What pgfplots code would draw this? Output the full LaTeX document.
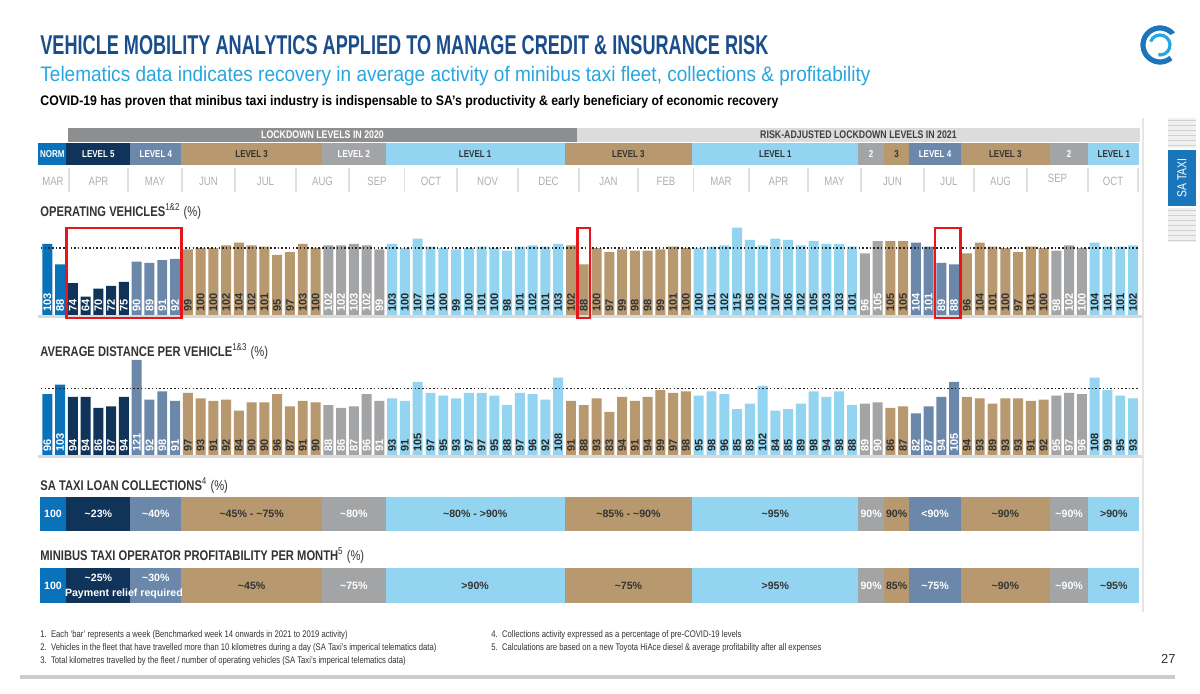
\documentclass[border=0pt]{standalone}
\usepackage{graphicx}
\usepackage{pgfplots}
\pgfplotsset{compat=1.18}
\usepackage{fontspec}
\setmainfont{Liberation Sans}
\newfontfamily\nar[FakeStretch=0.8]{Liberation Sans}

\definecolor{cNorm}{HTML}{0A72BA}
\definecolor{cL5}{HTML}{10335A}
\definecolor{cL4}{HTML}{6B88AB}
\definecolor{cL3}{HTML}{B7986F}
\definecolor{cL2}{HTML}{A3A4A6}
\definecolor{cL1}{HTML}{93D4F0}
\definecolor{cTitle}{HTML}{1A4D8C}
\definecolor{cSub}{HTML}{27A6DF}
\definecolor{cTxt}{HTML}{333333}
\definecolor{cMon}{HTML}{B0B0B0}
\definecolor{cBandA}{HTML}{8D8E90}
\definecolor{cBandB}{HTML}{DCDCDC}
\definecolor{cRed}{HTML}{E8161B}
\definecolor{cLogo}{HTML}{1B75BB}

% x position (px) of the left edge of weekly bar k
\newcommand\E[1]{40.9+12.773*(#1)}
% coloured block between bar edges k1 and k2, rows y1..y2, with a centred label
\newcommand\band[7]{%
  \fill[#5] ({\E{#1}},#3) rectangle ({\E{#2}},#4);
  \node[text=#6,inner sep=0pt] at ({\E{(#1+#2)/2}},{(#3+#4)/2}) {#7};}
\newcommand\T{\textasciitilde}
\newcommand\barfont{\bfseries\fontsize{5.5}{6}\selectfont}

\pgfplotsset{
  barax/.style={scale only axis, width=549.25pt, xmin=-0.5, xmax=85.5,
    enlargelimits=false, axis lines=none, clip=false, anchor=south west,
    /pgf/number format/assume math mode=true},
  opbar/.style 2 args={ybar, bar width=0.78, bar shift=0pt, draw=none, fill=#1,
    nodes near coords, visualization depends on=rawy\as\rawy,
    every node near coord/.append style={yshift={(50.5-\rawy)*0.6765pt+1.5pt},
      rotate=90, anchor=west, inner sep=0pt, font=\barfont, text=#2}},
  distbar/.style 2 args={ybar, bar width=0.78, bar shift=0pt, draw=none, fill=#1,
    nodes near coords, visualization depends on=rawy\as\rawy,
    every node near coord/.append style={yshift={(51.5-\rawy)*0.6835pt+1.5pt},
      rotate=90, anchor=west, inner sep=0pt, font=\barfont, text=#2}},
  refline/.style={sharp plot, black!85, line width=0.75pt,
    dash pattern=on 0.75pt off 1.1pt, forget plot},
}

\begin{document}
\begin{tikzpicture}
\begin{scope}[x=0.5pt,y=-0.5pt]
\fill[white] (0,0) rectangle (1200,694);

% ---- headline block
\node[anchor=base west,inner sep=0pt,text=cTitle] at (40,55)
  {\resizebox{364pt}{9.5pt}{\bfseries VEHICLE MOBILITY ANALYTICS APPLIED TO MANAGE CREDIT \& INSURANCE RISK}};
\node[anchor=base west,inner sep=0pt,text=cSub] at (40,82)
  {\resizebox{415pt}{7.6pt}{Telematics data indicates recovery in average activity of minibus taxi fleet, collections \& profitability}};
\node[anchor=base west,inner sep=0pt,text=black] at (40,106)
  {\resizebox{369pt}{5pt}{\bfseries COVID-19 has proven that minibus taxi industry is indispensable to SA’s productivity \& early beneficiary of economic recovery}};

% ---- logo
\draw[cLogo,line width=2.6pt] ([shift={(1160,45)}]50:17) arc[start angle=50,end angle=320,radius=17];
\draw[cSub,line width=1.6pt] ([shift={(1160,45)}]200:10) arc[start angle=200,end angle=460,radius=10];
\fill[white] (1168,36) -- (1182,30) -- (1180,42) -- cycle;

% ---- side tab
\fill[black!6] (1168,118) rectangle (1196,148);
\fill[black!6] (1168,208) rectangle (1196,242);
\foreach \yy in {121,126,...,146} {\draw[black!18,line width=0.5pt] (1168,\yy) -- (1196,\yy);}
\foreach \yy in {211,216,...,241} {\draw[black!18,line width=0.5pt] (1168,\yy) -- (1196,\yy);}
\fill[cLogo] (1168,150) rectangle (1196,206);
\node[rotate=90,text=white,inner sep=0pt,font=\nar\fontsize{6.5}{7}\selectfont] at (1182,178) {SA TAXI};

% ---- panel edges
\draw[black!10,line width=1pt] (1143,118) -- (1143,612);
\fill[black!15] (38,315) rectangle (1142,318);
\fill[black!15] (38,455) rectangle (1142,458);
\fill[black!20] (20,675) rectangle (1175,679);
\node[anchor=base east,inner sep=0pt,text=cTxt,font=\fontsize{6.5}{7}\selectfont] at (1176,664) {27};

% ---- lockdown periods
\fill[cBandA] (68,128) rectangle (577,142);
\node[text=white,inner sep=0pt,font=\nar\bfseries\fontsize{5.5}{6}\selectfont] at (322.5,135) {LOCKDOWN LEVELS IN 2020};
\fill[cBandB] (577,128) rectangle (1140,142);
\node[text=black!75,inner sep=0pt,font=\nar\bfseries\fontsize{5.5}{6}\selectfont] at (858.5,135) {RISK-ADJUSTED LOCKDOWN LEVELS IN 2021};

\begin{scope}[every node/.style={font=\nar\bfseries\fontsize{5}{6}\selectfont}]
\band{-0.2}{2}{143}{165}{cNorm}{white}{NORM}
\band{2}{7}{143}{165}{cL5}{white}{LEVEL 5}
\band{7}{11}{143}{165}{cL4}{white}{LEVEL 4}
\band{11}{22}{143}{165}{cL3}{cTxt}{LEVEL 3}
\band{22}{27}{143}{165}{cL2}{white}{LEVEL 2}
\band{27}{41}{143}{165}{cL1}{cTxt}{LEVEL 1}
\band{41}{51}{143}{165}{cL3}{cTxt}{LEVEL 3}
\band{51}{64}{143}{165}{cL1}{cTxt}{LEVEL 1}
\band{64}{66}{143}{165}{cL2}{white}{2}
\band{66}{68}{143}{165}{cL3}{cTxt}{3}
\band{68}{72}{143}{165}{cL4}{white}{LEVEL 4}
\band{72}{79}{143}{165}{cL3}{cTxt}{LEVEL 3}
\band{79}{82}{143}{165}{cL2}{white}{2}
\band{82}{86}{143}{165}{cL1}{cTxt}{LEVEL 1}
\end{scope}

% ---- months
\foreach \xx in {69,128,182,235,296,349,404.5,457,518,579,638,693.5,749,808,861,924,974,1027,1088,1138}
  {\draw[black!12,line width=0.6pt] (\xx,168) -- (\xx,192);}
\foreach \xx/\mm in {53/MAR,98.5/APR,155/MAY,208.5/JUN,265.5/JUL,322.5/AUG,377/SEP,431/OCT,487.5/NOV,548.5/DEC,
  608.5/JAN,666/FEB,721/MAR,778.5/APR,834.5/MAY,892.5/JUN,949/JUL,1000.5/AUG,1113/OCT}
  {\node[text=cMon,inner sep=0pt,font=\nar\fontsize{6}{7}\selectfont] at (\xx,181) {\mm};}
\node[text=cMon,inner sep=0pt,font=\nar\fontsize{6}{7}\selectfont] at (1057.5,178) {SEP};

% ---- section titles
\begin{scope}[every node/.style={anchor=base west,inner sep=0pt,text=cTxt,font=\nar\fontsize{7}{8}\selectfont}]
\node at (40,217) {\textbf{OPERATING VEHICLES}\textsuperscript{1\&2} (\%)};
\node at (40,357) {\textbf{AVERAGE DISTANCE PER VEHICLE}\textsuperscript{1\&3} (\%)};
\node at (40,491) {\textbf{SA TAXI LOAN COLLECTIONS}\textsuperscript{4} (\%)};
\node at (40,561) {\textbf{MINIBUS TAXI OPERATOR PROFITABILITY PER MONTH}\textsuperscript{5} (\%)};
\end{scope}

% ---- collections
\begin{scope}[every node/.style={font=\bfseries\fontsize{5.3}{6}\selectfont}]
\band{-0.1}{2}{497}{531}{cNorm}{white}{100}
\band{2}{7}{497}{531}{cL5}{white}{\T23\%}
\band{7}{11}{497}{531}{cL4}{white}{\T40\%}
\band{11}{22}{497}{531}{cL3}{cTxt}{\T45\% - \T75\%}
\band{22}{27}{497}{531}{cL2}{white}{\T80\%}
\band{27}{41}{497}{531}{cL1}{cTxt}{\T80\% - >90\%}
\band{41}{51}{497}{531}{cL3}{cTxt}{\T85\% - \T90\%}
\band{51}{64}{497}{531}{cL1}{cTxt}{\T95\%}
\band{64}{66}{497}{531}{cL2}{white}{90\%}
\band{66}{68}{497}{531}{cL3}{cTxt}{90\%}
\band{68}{72}{497}{531}{cL4}{white}{<90\%}
\band{72}{79}{497}{531}{cL3}{cTxt}{\T90\%}
\band{79}{82}{497}{531}{cL2}{white}{\T90\%}
\band{82}{86}{497}{531}{cL1}{cTxt}{>90\%}
% ---- profitability
\band{-0.1}{2}{568}{603}{cNorm}{white}{100}
\band{2}{7}{568}{603}{cL5}{white}{}
\band{7}{11}{568}{603}{cL4}{white}{}
\band{11}{22}{568}{603}{cL3}{cTxt}{\T45\%}
\band{22}{27}{568}{603}{cL2}{white}{\T75\%}
\band{27}{41}{568}{603}{cL1}{cTxt}{>90\%}
\band{41}{51}{568}{603}{cL3}{cTxt}{\T75\%}
\band{51}{64}{568}{603}{cL1}{cTxt}{>95\%}
\band{64}{66}{568}{603}{cL2}{white}{90\%}
\band{66}{68}{568}{603}{cL3}{cTxt}{85\%}
\band{68}{72}{568}{603}{cL4}{white}{\T75\%}
\band{72}{79}{568}{603}{cL3}{cTxt}{\T90\%}
\band{79}{82}{568}{603}{cL2}{white}{\T90\%}
\band{82}{86}{568}{603}{cL1}{cTxt}{\T95\%}
\node[text=white,inner sep=0pt] at ({\E{4.5}},578) {\T25\%};
\node[text=white,inner sep=0pt] at ({\E{9}},578) {\T30\%};
\node[text=white,inner sep=0pt] at ({\E{6.5}},594) {Payment relief required};
\end{scope}

% ---- footnotes
\begin{scope}[every node/.style={anchor=base west,inner sep=0pt,text=cTxt,font=\nar\fontsize{4.8}{5.5}\selectfont}]
\node at (40,638) {1.\ \ Each ‘bar’ represents a week (Benchmarked week 14 onwards in 2021 to 2019 activity)};
\node at (40,651) {2.\ \ Vehicles in the fleet that have travelled more than 10 kilometres during a day (SA Taxi’s imperical telematics data)};
\node at (40,664) {3.\ \ Total kilometres travelled by the fleet / number of operating vehicles (SA Taxi’s imperical telematics data)};
\node at (491,638) {4.\ \ Collections activity expressed as a percentage of pre-COVID-19 levels};
\node at (491,651) {5.\ \ Calculations are based on a new Toyota HiAce diesel \& average profitability after all expenses};
\end{scope}
\end{scope}

% ---- operating vehicles, weekly (% of benchmark)
\begin{axis}[barax, at={(20.45pt,-157.5pt)}, ymin=50.5, ymax=117, height=44.99pt]
\addplot[opbar={cNorm}{white}] coordinates {(0,103)(1,88)};
\addplot[opbar={cL5}{white}] coordinates {(2,74)(3,64)(4,70)(5,72)(6,75)};
\addplot[opbar={cL4}{white}] coordinates {(7,90)(8,89)(9,91)(10,92)(68,104)(69,101)(70,89)(71,88)};
\addplot[opbar={cL3}{cTxt}] coordinates {(11,99)(12,100)(13,100)(14,102)(15,104)(16,102)(17,101)(18,95)(19,97)(20,103)(21,100)
  (41,102)(42,88)(43,100)(44,97)(45,99)(46,98)(47,98)(48,99)(49,101)(50,100)
  (66,105)(67,105)(72,96)(73,104)(74,101)(75,100)(76,97)(77,101)(78,100)};
\addplot[opbar={cL2}{white}] coordinates {(22,102)(23,102)(24,103)(25,102)(26,99)(64,96)(65,105)(79,98)(80,102)(81,100)};
\addplot[opbar={cL1}{black!85}] coordinates {(27,103)(28,100)(29,107)(30,101)(31,100)(32,99)(33,100)(34,101)(35,100)(36,98)(37,101)(38,102)(39,101)(40,103)
  (51,100)(52,101)(53,102)(54,115)(55,106)(56,102)(57,107)(58,106)(59,102)(60,105)(61,103)(62,103)(63,101)
  (82,104)(83,101)(84,101)(85,102)};
\addplot[refline] coordinates {(-0.5,100) (85.5,100)};
\end{axis}

% ---- average distance per vehicle, weekly (% of benchmark)
\begin{axis}[barax, at={(20.45pt,-227.5pt)}, ymin=51.5, ymax=122, height=48.19pt]
\addplot[distbar={cNorm}{white}] coordinates {(0,96)(1,103)};
\addplot[distbar={cL5}{white}] coordinates {(2,94)(3,94)(4,86)(5,87)(6,94)};
\addplot[distbar={cL4}{white}] coordinates {(7,121)(8,92)(9,98)(10,91)(68,82)(69,87)(70,94)(71,105)};
\addplot[distbar={cL3}{cTxt}] coordinates {(11,97)(12,93)(13,91)(14,92)(15,84)(16,90)(17,90)(18,96)(19,87)(20,91)(21,90)
  (41,91)(42,88)(43,93)(44,83)(45,94)(46,91)(47,94)(48,99)(49,97)(50,98)
  (66,86)(67,87)(72,94)(73,93)(74,89)(75,93)(76,93)(77,91)(78,92)};
\addplot[distbar={cL2}{white}] coordinates {(22,88)(23,86)(24,87)(25,96)(26,91)(64,89)(65,90)(79,95)(80,97)(81,96)};
\addplot[distbar={cL1}{black!85}] coordinates {(27,93)(28,91)(29,105)(30,97)(31,95)(32,93)(33,97)(34,97)(35,95)(36,88)(37,97)(38,96)(39,92)(40,108)
  (51,95)(52,98)(53,96)(54,85)(55,89)(56,102)(57,84)(58,85)(59,89)(60,98)(61,94)(62,98)(63,88)
  (82,108)(83,99)(84,95)(85,93)};
\addplot[refline] coordinates {(-0.5,100) (85.5,100)};
\end{axis}

% ---- highlighted weeks
\begin{scope}[x=0.5pt,y=-0.5pt]
\draw[cRed,line width=1.2pt] ({\E{2}},228) rectangle ({\E{11}},318);
\draw[cRed,line width=1.2pt] ({\E{42}},228) rectangle ({\E{43}},318);
\draw[cRed,line width=1.2pt] ({\E{70}},228) rectangle ({\E{72}},318);
\end{scope}
\end{tikzpicture}
\end{document}
